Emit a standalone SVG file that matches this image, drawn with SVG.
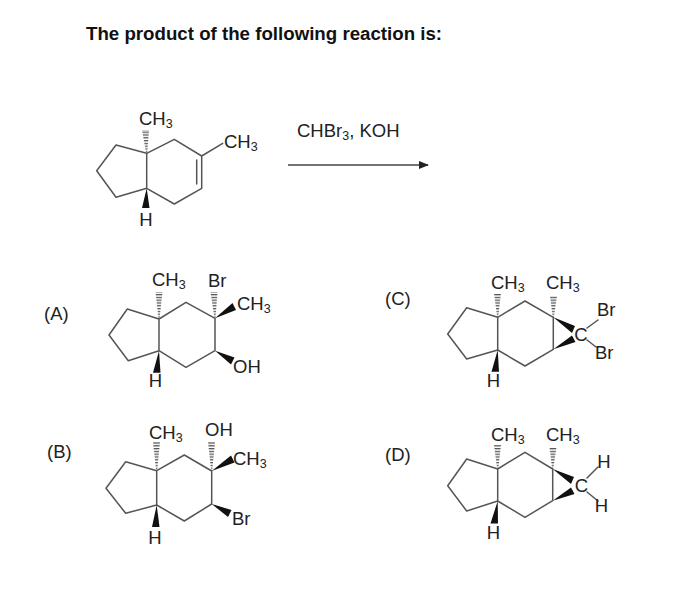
<svg xmlns="http://www.w3.org/2000/svg" width="700" height="608" viewBox="0 0 700 608">
<style>
text{font-family:"Liberation Sans",Arial,sans-serif;font-size:18.5px;fill:#222}
.t{font-size:18.7px;font-weight:bold;fill:#111}
.m{text-anchor:middle}
.s{font-size:12.5px}
.b{fill:none;stroke:#555;stroke-width:1.5;stroke-linejoin:round;stroke-linecap:round}
.w{fill:#111}
.h{fill:url(#hash)}
</style>
<defs>
<pattern id="hash" width="4" height="2.8" patternUnits="userSpaceOnUse"><rect width="4" height="1.3" fill="#555"/></pattern>
<marker id="ah" markerWidth="10" markerHeight="8" refX="9" refY="4" orient="auto" markerUnits="userSpaceOnUse"><path d="M0 0L10 4L0 8z" fill="#222"/></marker>
</defs>
<rect width="700" height="608" fill="#fff"/>
<text class="t" x="86" y="40">The product of the following reaction is:</text>
<g id="connectors"><line x1="288" y1="165" x2="428" y2="165" stroke="#444" stroke-width="1.3" marker-end="url(#ah)"/></g>
<g id="reagent"><text x="297" y="137">CHBr<tspan class="s" dy="3">3</tspan><tspan dy="-3">, KOH</tspan></text></g>
<g id="reactant">
<path class="b" d="M146.7 153.3L116 145L96.7 170.7L116 197.3L146.7 188.3V153.3L174.3 139.3L201.7 156V188.3L174.3 204L146.7 188.3M201.7 156L222.7 143.3M196.7 160V184"/>
<polygon class="h" points="146.2,153.3 147.2,153.3 149,130 142,130"/>
<polygon class="w" points="146.7,188.3 142,208 149.5,208"/>
<text x="139" y="125">CH<tspan class="s" dy="3">3</tspan></text>
<text x="224" y="148">CH<tspan class="s" dy="3">3</tspan></text>
<text class="m" x="146" y="226">H</text>
</g>
<g id="option-a">
<text x="44" y="320">(A)</text>
<path class="b" d="M159 319L127.3 309L109 335L128.3 360.7L159 350.7V319L186 302.3L215 318.3V350.7L186 367.3L159 350.7"/>
<polygon class="h" points="158.5,319 159.5,319 162.5,292 155.5,292"/>
<polygon class="h" points="214.5,318.3 215.5,318.3 217.5,292 210.5,292"/>
<polygon class="w" points="215,318.3 232.5,303 236,310"/>
<polygon class="w" points="215,350.7 231,364.5 234.5,357.5"/>
<polygon class="w" points="159,350.7 153,372.7 160.5,372.7"/>
<text x="152" y="286">CH<tspan class="s" dy="3">3</tspan></text>
<text x="208" y="287">Br</text>
<text x="237" y="310">CH<tspan class="s" dy="3">3</tspan></text>
<text x="233" y="373">OH</text>
<text class="m" x="155.5" y="387">H</text>
</g>
<g id="option-b">
<text x="47" y="458">(B)</text>
<path class="b" d="M156.7 470.7L125.7 461.7L106 488.3L125.7 513.3L156.7 505V470.7L184.3 455L211.7 471V504L184.3 521L156.7 505"/>
<polygon class="h" points="156.2,470.7 157.2,470.7 160,442 153,442"/>
<polygon class="h" points="211.2,471 212.2,471 215,442 208,442"/>
<polygon class="w" points="211.7,471 231,455.5 234.5,462.5"/>
<polygon class="w" points="211.7,504 228,517 231.5,510"/>
<polygon class="w" points="156.7,505 152,527 159.5,527"/>
<text x="149" y="439">CH<tspan class="s" dy="3">3</tspan></text>
<text x="205" y="436">OH</text>
<text x="233" y="465">CH<tspan class="s" dy="3">3</tspan></text>
<text x="232" y="525">Br</text>
<text class="m" x="155" y="544">H</text>
</g>
<g id="option-c">
<text x="385" y="305">(C)</text>
<path class="b" d="M497.7 317.3L466.7 307.7L447.7 334L466.7 359L497.7 350V317.3L525 301L553.3 317.3V349.3L525 366L497.7 350M587 328L598 320M587 340L596 347"/>
<polygon class="h" points="497.2,317.3 498.2,317.3 501,293 494,293"/>
<polygon class="h" points="552.8,317.3 553.8,317.3 557,296 550,296"/>
<polygon class="w" points="553.3,317.3 575,326 572,333"/>
<polygon class="w" points="553.3,349.3 572,335.5 575.5,342"/>
<polygon class="w" points="497.7,350 491.5,371.7 499,371.7"/>
<text x="491" y="289">CH<tspan class="s" dy="3">3</tspan></text>
<text x="546" y="289">CH<tspan class="s" dy="3">3</tspan></text>
<text class="m" x="581" y="340.5">C</text>
<text x="597" y="316">Br</text>
<text x="595" y="359">Br</text>
<text class="m" x="493.5" y="387">H</text>
</g>
<g id="option-d">
<text x="385" y="461">(D)</text>
<path class="b" d="M497.7 469L466.7 459L447.7 485.7L466.7 511L497.7 501V469L525 452.3L552.7 469V500.7L525 517.3L497.7 501M587 478L598 467M587 492L598 501"/>
<polygon class="h" points="497.2,469 498.2,469 501,445 494,445"/>
<polygon class="h" points="552.2,469 553.2,469 556.5,447 549.5,447"/>
<polygon class="w" points="552.7,469 574,477 571,484"/>
<polygon class="w" points="552.7,500.7 571,487.5 574.5,494"/>
<polygon class="w" points="497.7,501 490.5,523.5 498,523.5"/>
<text x="491" y="441">CH<tspan class="s" dy="3">3</tspan></text>
<text x="546" y="441">CH<tspan class="s" dy="3">3</tspan></text>
<text class="m" x="581.5" y="491.5">C</text>
<text class="m" x="604" y="468">H</text>
<text class="m" x="601.5" y="512">H</text>
<text class="m" x="493.5" y="539">H</text>
</g>
</svg>
